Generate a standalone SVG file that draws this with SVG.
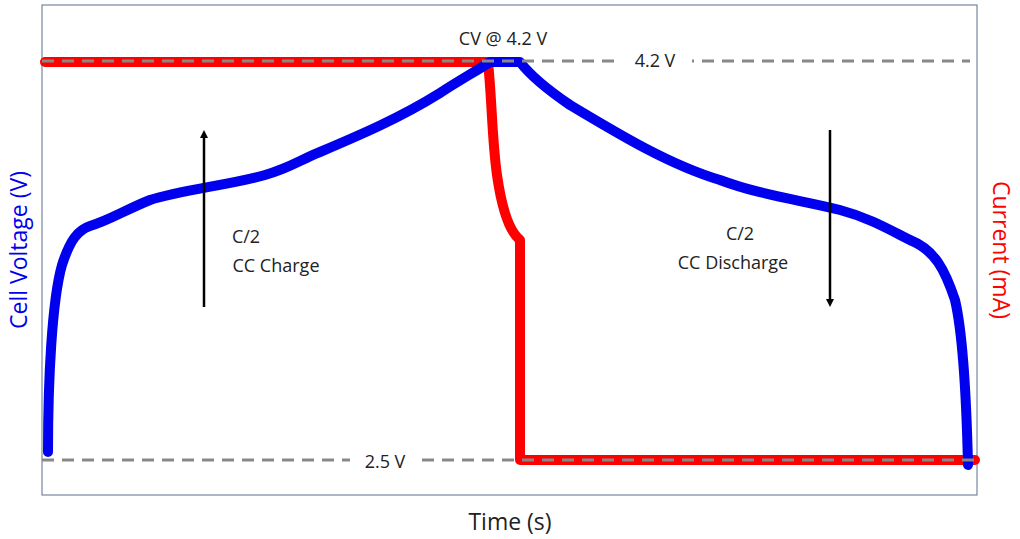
<svg xmlns="http://www.w3.org/2000/svg" width="1020" height="539" viewBox="0 0 1020 539">
<defs>
<marker id="ah" markerWidth="8" markerHeight="8" refX="4" refY="4" orient="auto" markerUnits="userSpaceOnUse"><path d="M0,0 L8,4 L0,8 z" fill="#000"/></marker>
</defs>
<style>
text{font-family:"Open Sans","Liberation Sans",sans-serif;font-size:18px;fill:#222}
.dash{stroke:#888;stroke-width:3;stroke-dasharray:12 8;fill:none}
.bg{fill:#fff}
</style>
<rect width="1020" height="539" fill="#fff"/>
<rect x="42" y="5" width="935" height="490" fill="none" stroke="#5a6e8a" stroke-width="1"/>
<g id="curves" fill="none" stroke-linecap="round" stroke-linejoin="round">
<path d="M45,62 L488,62 C492,100 492,140 497,175 C502,210 510,232 520,240 L520,460 L975,460" stroke="#ff0000" stroke-width="10"/>
<path d="M48,452 C48,380 52,300 62,265 C70,240 78,230 90,226 C110,220 125,210 150,200 C180,190 230,185 265,175 C290,168 300,160 320,152 C360,135 400,118 440,93 C460,80 478,70 490,62 L520,62 C530,75 545,88 570,105 C620,135 670,165 720,180 C760,195 800,200 840,210 C870,218 890,230 910,240 C935,250 945,270 955,300 C962,330 966,380 968,465" stroke="#0000ee" stroke-width="10"/>
</g>
<g id="guides">
<line class="dash" x1="42" y1="61" x2="970" y2="61"/>
<line class="dash" x1="42" y1="460" x2="975" y2="460"/>
<rect class="bg" x="618" y="48" width="74" height="24"/>
<text x="655" y="67" text-anchor="middle">4.2 V</text>
<rect class="bg" x="350" y="450" width="70" height="24"/>
<text x="385" y="468" text-anchor="middle">2.5 V</text>
</g>
<g id="arrows" stroke="#000" stroke-width="2.5">
<line x1="204" y1="307" x2="204" y2="134" marker-end="url(#ah)"/>
<line x1="830" y1="130" x2="830" y2="303" marker-end="url(#ah)"/>
</g>
<g id="labels">
<text x="503" y="45" text-anchor="middle">CV @ 4.2 V</text>
<text x="246" y="243" text-anchor="middle">C/2</text>
<text x="276" y="272" text-anchor="middle">CC Charge</text>
<text x="740" y="240" text-anchor="middle">C/2</text>
<text x="733" y="269" text-anchor="middle">CC Discharge</text>
<text x="510" y="530" text-anchor="middle" style="font-size:23px">Time (s)</text>
<text transform="translate(27,250) rotate(-90)" text-anchor="middle" style="font-size:23px;fill:#0000ee">Cell Voltage (V)</text>
<text transform="translate(993,250) rotate(90)" text-anchor="middle" style="font-size:23px;fill:#ff0000">Current (mA)</text>
</g>
</svg>
